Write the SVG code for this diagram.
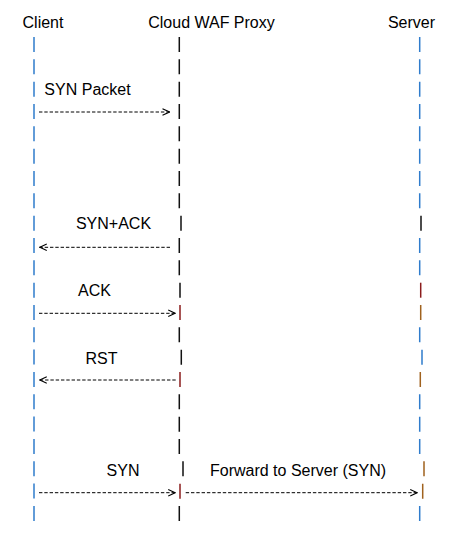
<svg xmlns="http://www.w3.org/2000/svg" width="466" height="555" viewBox="0 0 466 555">
<style>
  text { font-family: "Liberation Sans", Arial, sans-serif; font-size: 16px; fill: #000; text-anchor: middle; }
  .life { fill: none; stroke-width: 1.5; }
  .blue { stroke: #2f7ccc; }
  .black { stroke: #111; }
  .red { stroke: #8b1c1c; }
  .brown { stroke: #a0621e; }
  .msg { fill: none; stroke: #000; stroke-width: 1; stroke-dasharray: 3.4 1.9; }
</style>
<defs>
  <marker id="open" viewBox="0 0 8 8" refX="8" refY="4" markerWidth="8" markerHeight="8" markerUnits="userSpaceOnUse" orient="auto-start-reverse">
    <path d="M0.5,0.8 L7.5,4 L0.5,7.2" fill="none" stroke="#000" stroke-width="1.1"/>
  </marker>
</defs>
<rect width="466" height="555" fill="#fff"/>

<g id="client">
  <text x="43" y="28">Client</text>
  <line class="life blue" x1="34" y1="37" x2="34" y2="521" stroke-dasharray="15 7.33"/>
</g>

<g id="proxy">
  <text x="211.5" y="28">Cloud WAF Proxy</text>
  <path class="life black" d="M179.3,37v15 M179.3,59.3v15 M179.3,81.7v15 M179.3,104v15 M179.3,126.3v15 M179.3,148.7v15 M179.3,171v15 M179.3,193.3v15 M181,215.7v15 M179.3,238v15 M179.3,260.3v15 M180,282.7v15 M179.3,327.3v15 M181.3,349.7v15 M179.3,394.3v15 M179.3,416.7v15 M179.3,439v15 M183,461.3v15 M179.3,506v15"/>
  <path class="life red" d="M180,305v15 M180,372v15 M180,483.7v15"/>
</g>

<g id="server">
  <text x="411.5" y="28">Server</text>
  <path class="life blue" d="M419.7,37v15 M419.7,59.3v15 M419.7,81.7v15 M419.7,104v15 M419.7,126.3v15 M419.7,148.7v15 M419.7,171v15 M419.7,193.3v15 M419.7,238v15 M419.7,260.3v15 M419.7,327.3v15 M422,349.7v15 M419.7,394.3v15 M419.7,416.7v15 M419.7,439v15 M419.7,506v15"/>
  <path class="life black" d="M421,215.7v15"/>
  <path class="life red" d="M420.7,282.7v15"/>
  <path class="life brown" d="M420.7,305v15 M420.3,372v15 M424,461.3v15 M422.7,483.7v15"/>
</g>

<g id="connectors">
  <line class="msg" x1="39" y1="112" x2="170" y2="112" marker-end="url(#open)"/>
  <text x="87.5" y="95">SYN Packet</text>

  <line class="msg" x1="170" y1="247.3" x2="39.3" y2="247.3" marker-end="url(#open)"/>
  <text x="113.5" y="229.3">SYN+ACK</text>

  <line class="msg" x1="39" y1="313.3" x2="175.7" y2="313.3" marker-end="url(#open)"/>
  <text x="94.5" y="296">ACK</text>

  <line class="msg" x1="175.7" y1="380" x2="39.3" y2="380" marker-end="url(#open)"/>
  <text x="101.5" y="364.3">RST</text>

  <line class="msg" x1="39" y1="492.7" x2="175.7" y2="492.7" marker-end="url(#open)"/>
  <text x="123" y="476">SYN</text>

  <line class="msg" x1="185.7" y1="492.7" x2="417.7" y2="492.7" marker-end="url(#open)"/>
  <text x="298" y="476">Forward to Server (SYN)</text>
</g>
</svg>
